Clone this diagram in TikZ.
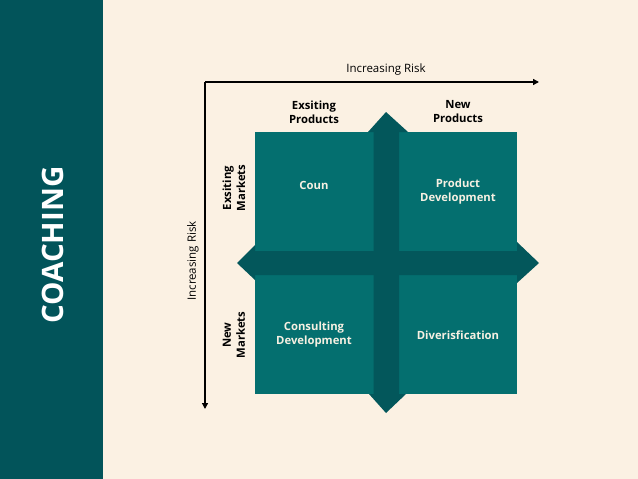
\documentclass[tikz,border=0pt]{standalone}
\usepackage{fontspec}
\setmainfont{Open Sans}
\usetikzlibrary{arrows.meta}
\definecolor{bgc}{HTML}{FBF1E3}
\definecolor{bandc}{HTML}{02545A}
\definecolor{quadc}{HTML}{046F6F}
\definecolor{crossc}{HTML}{03575B}
\definecolor{txtc}{HTML}{F6F0E2}
\tikzset{
  quad/.style={fill=quadc, draw=none},
  qtext/.style={font=\fontsize{11.3}{14}\selectfont\bfseries, text=txtc, align=center},
  htext/.style={font=\fontsize{11.3}{14}\selectfont\bfseries, text=black, align=center},
  axtext/.style={font=\fontsize{11.5}{13}\selectfont, text=black},
  axis/.style={draw=black, line width=1.3pt, -{Triangle[length=6pt,width=6pt]}}
}
\begin{document}
\begin{tikzpicture}[x=1pt,y=-1pt]
\useasboundingbox (0,0) rectangle (638,479);
\fill[bgc] (0,0) rectangle (638,479);
\fill[bandc] (0,0) rectangle (103,479);
\node[rotate=90, font=\fontsize{29.5}{30}\selectfont\bfseries, text=white] (title) at (53,245) {COACHING};
% quadrants
\fill[quad] (255,132) rectangle (517,394);
% cross
\fill[crossc] (373.5,132) -- (368,132) -- (386,112) -- (408,132) -- (399,132) -- (399,251) -- (517,251) -- (517,242) -- (539,263) -- (517,283) -- (517,275) -- (399,275) -- (399,394) -- (406,394) -- (386,413) -- (369,394) -- (373.5,394) -- (373.5,275) -- (255,275) -- (255,280) -- (237,263) -- (255,245) -- (255,251) -- (373.5,251) -- cycle;
% axes
\coordinate (o) at (205,82);
\coordinate (xe) at (539,82);
\coordinate (ye) at (205,409);
\draw[axis] (o) -- (xe);
\draw[axis] (o) -- (ye);
\node[axtext] (xl) at (386,70) {Increasing Risk};
\node[axtext, rotate=90] (yl) at (193,261) {Increasing Risk};
% headers
\node[htext] (h1) at (314,112) {Exsiting\\Products};
\node[htext] (h2) at (458,112) {New\\Products};
\node[htext, rotate=90] (h3) at (234,188) {Exsiting\\Markets};
\node[htext, rotate=90] (h4) at (234,335) {New\\Markets};
% quadrant texts
\node[qtext] (q1) at (314,185) {Coun};
\node[qtext] (q2) at (458,192) {Product\\Development};
\node[qtext] (q3) at (314,335) {Consulting\\Development};
\node[qtext] (q4) at (458,335) {Diverisfication};
\end{tikzpicture}
\end{document}
